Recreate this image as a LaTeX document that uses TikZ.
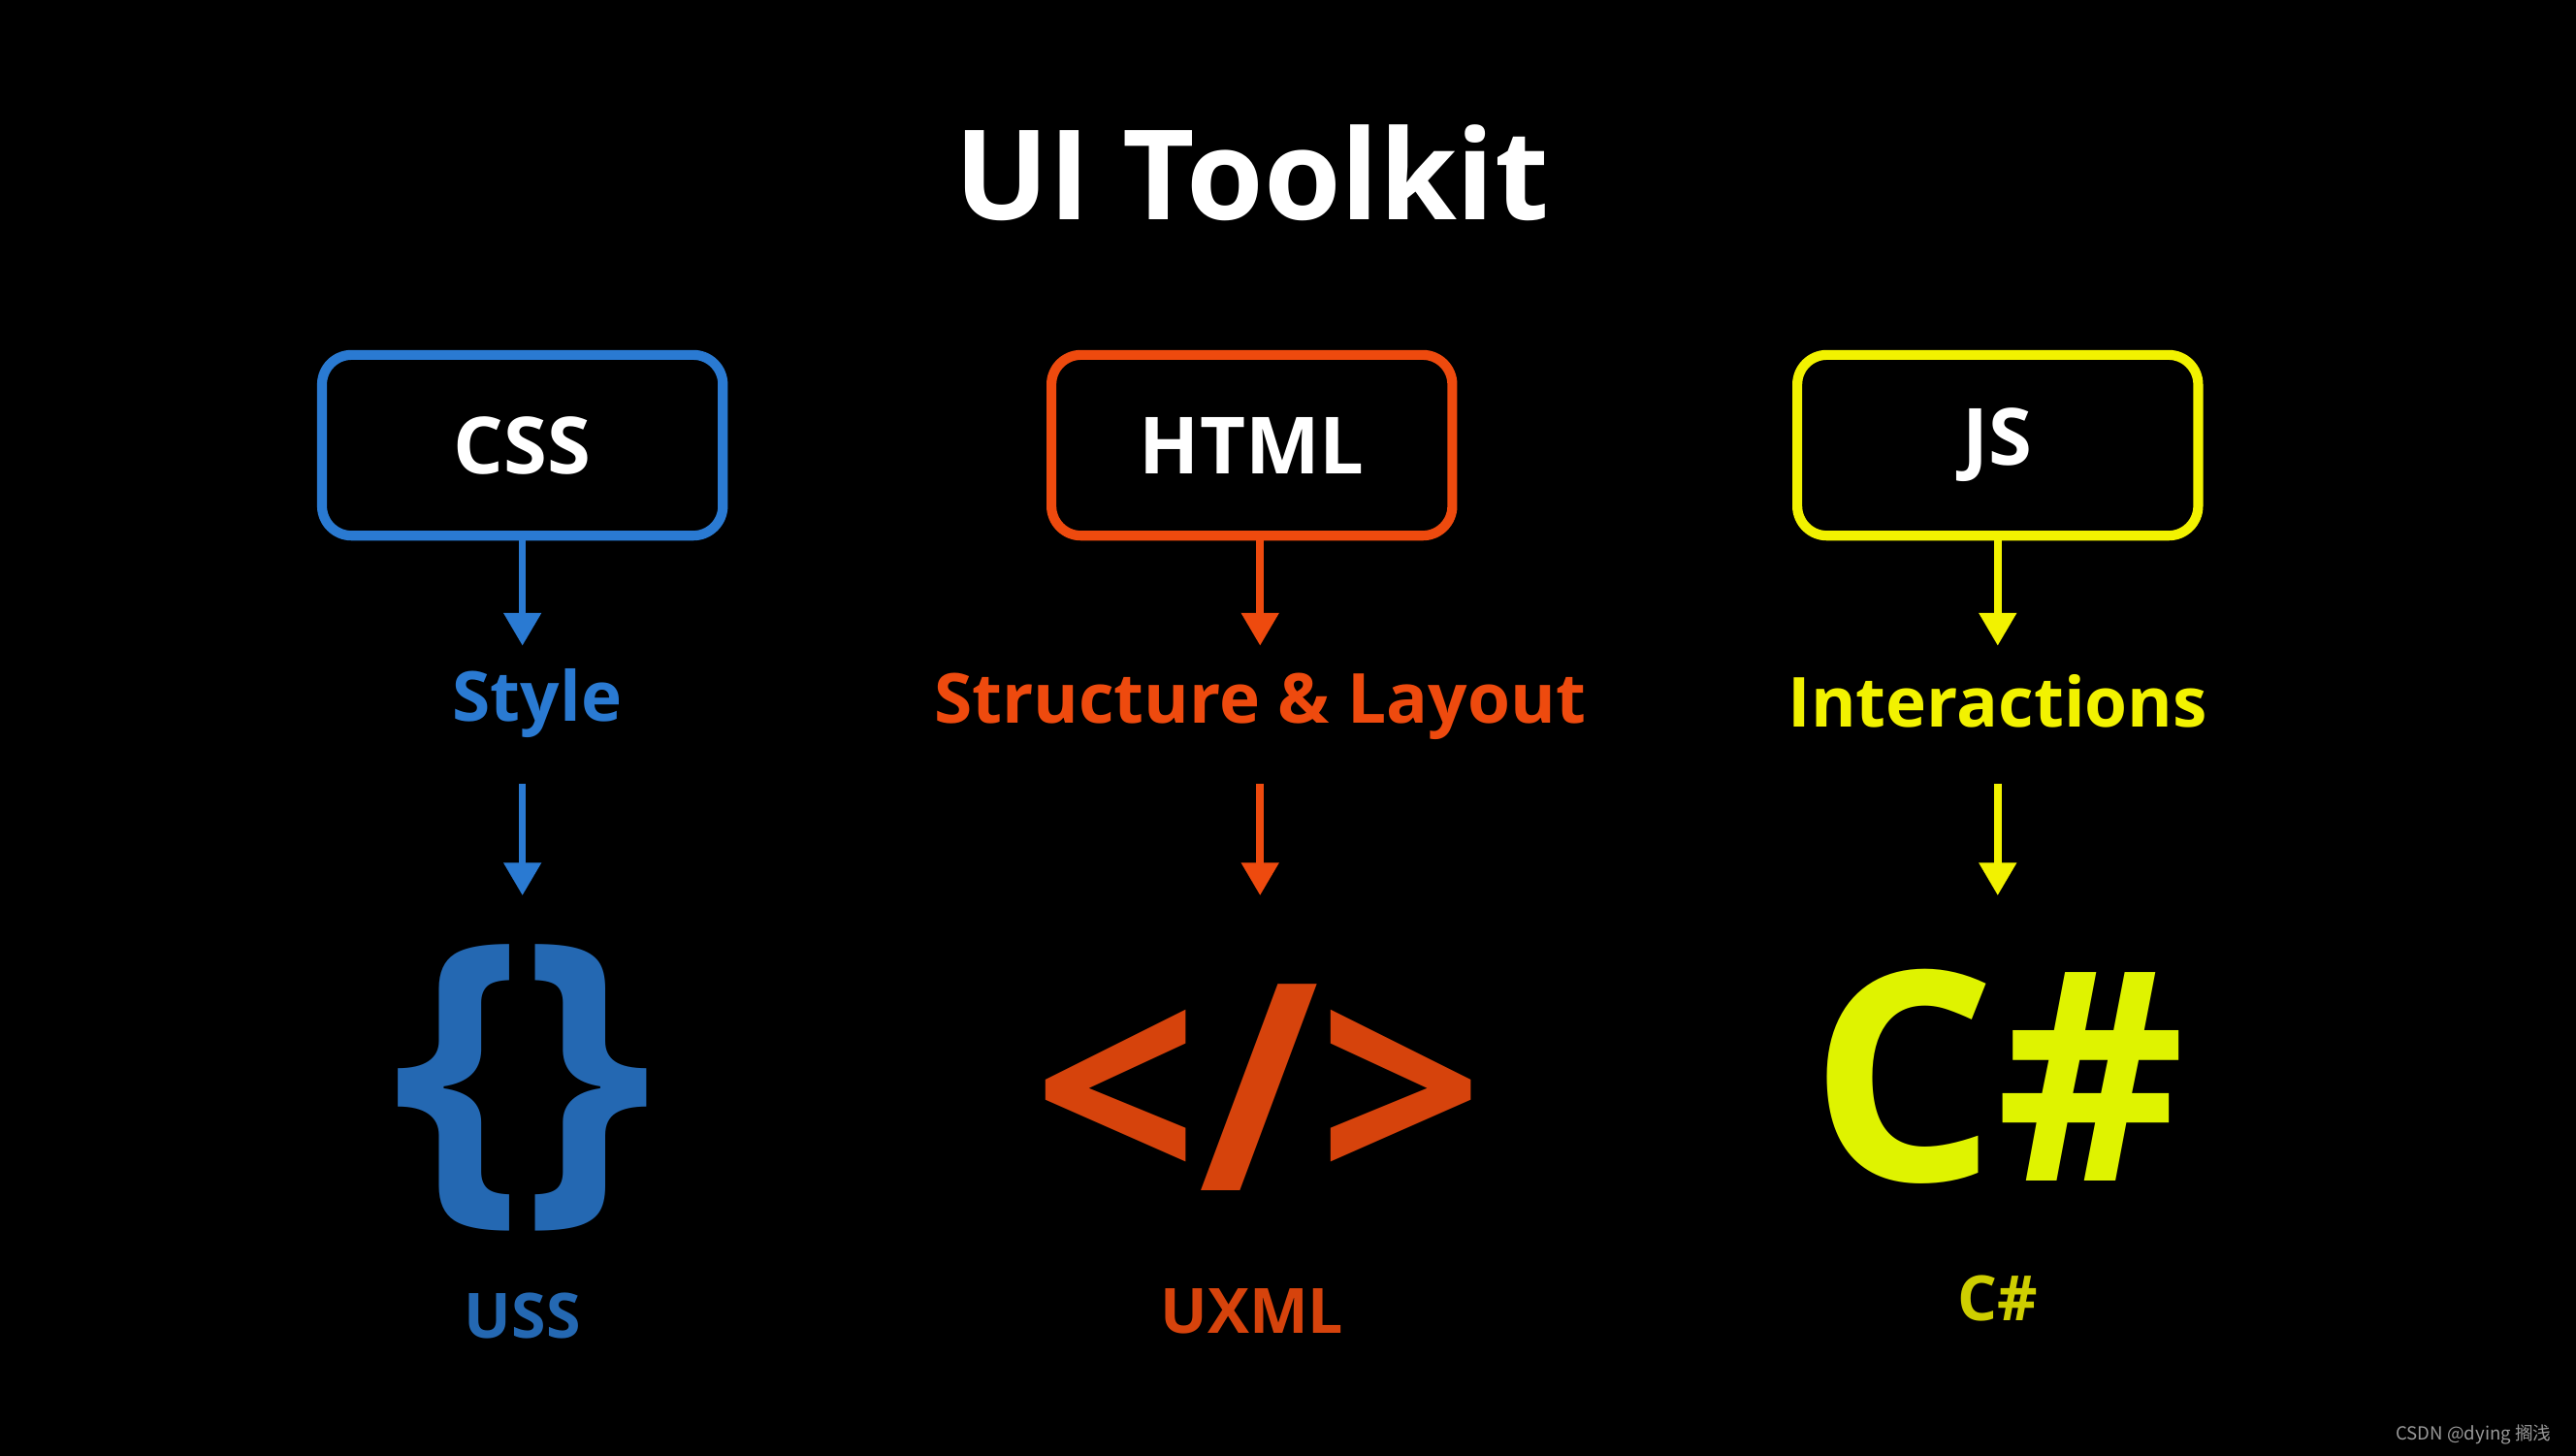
\documentclass[tikz,border=0pt]{standalone}
\usepackage{fontspec}
\setmainfont{Open Sans}
\newfontfamily\cjk{Noto Sans CJK SC}
\usetikzlibrary{arrows.meta}
\definecolor{cblue}{HTML}{2A7AD2}
\definecolor{corange}{HTML}{EE4A0E}
\definecolor{cyellow}{HTML}{F2F200}
\tikzset{
  box/.style={draw=#1, line width=3pt, rounded corners=9pt, minimum width=122pt, minimum height=55pt, text=white, font=\fontsize{24}{24}\selectfont\bfseries},
  arr/.style={draw=#1, line width=2.2pt, -{Triangle[width=11pt,length=10pt]}},
  lab/.style={text=#1, font=\fontsize{21}{21}\selectfont\bfseries},
  sub/.style={text=#1, font=\fontsize{19}{19}\selectfont\bfseries},
}
\begin{document}
\begin{tikzpicture}[x=0.5pt,y=-0.5pt]
\fill[black] (0,0) rectangle (1568,886);
\useasboundingbox (0,0) rectangle (1568,886);
\node[text=white, font=\fontsize{38}{38}\selectfont\bfseries] (title) at (762,105) {UI Toolkit};
% CSS
\node[box=cblue] (css) at (318,271) {CSS};
\node[lab=cblue] (style) at (327,428) {Style};
\node[text=cblue!85!black, font=\fontsize{100}{100}\selectfont\bfseries] (uss icon) at (318,662) {\{\}};
\node[sub=cblue!85!black] (uss) at (318,801) {USS};
\draw[arr=cblue] (css.south) -- (318,393);
\coordinate (a1) at (318,477);
\draw[arr=cblue] (a1) -- (318,545);
% HTML
\node[box=corange] (html) at (762,271) {HTML};
\node[lab=corange] (struct) at (767,430) {Structure \& Layout};
\node[text=corange!90!black, font=\fontsize{88}{88}\selectfont\bfseries] (uxml icon) at (766,662) {</>};
\node[sub=corange!90!black] (uxml) at (762,798) {UXML};
\draw[arr=corange] (767,326) -- (767,393);
\coordinate (a2) at (767,477);
\draw[arr=corange] (a2) -- (767,545);
% JS
\node[box=cyellow] (js) at (1216,271) {JS};
\node[lab=cyellow] (inter) at (1216,427) {Interactions};
\node[text=cyellow!92!green, font=\fontsize{89}{89}\selectfont\bfseries] (cs icon) at (1216,655) {C\#};
\node[sub=cyellow!85!black] (cs) at (1216,790) {C\#};
\draw[arr=cyellow] (js.south) -- (1216,393);
\coordinate (a3) at (1216,477);
\draw[arr=cyellow] (a3) -- (1216,545);
\node[text=gray!80, font=\fontsize{5.5}{6}\selectfont\cjk, anchor=east] (wm) at (1560,873) {CSDN @dying 搁浅};
\end{tikzpicture}
\end{document}
